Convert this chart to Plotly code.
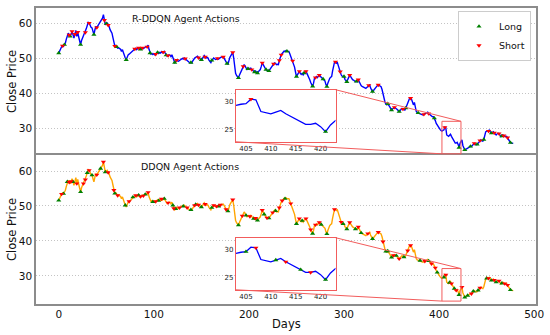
import plotly.graph_objects as go

# ---------------- data ----------------
days = list(range(479))
close = [
    51.6, 52.3, 52.9, 53.4, 53.7, 53.5, 54.0, 54.5, 55.6, 56.9,
    57.3, 56.8, 56.4, 57.0, 57.8, 56.9, 55.9, 57.0, 58.1, 56.4,
    57.6, 56.2, 55.0, 54.0, 55.2, 55.8, 56.4, 57.0, 57.5, 58.6,
    59.5, 60.4, 60.2, 59.5, 59.0, 58.8, 58.0, 56.9, 58.2, 59.2,
    58.9, 59.3, 59.7, 60.3, 60.7, 61.2, 61.6, 62.6, 61.0, 59.7,
    60.0, 60.2, 59.6, 59.2, 58.3, 57.8, 57.3, 56.0, 54.5, 53.6,
    53.8, 53.4, 53.0, 53.1, 52.9, 52.7, 52.1, 52.6, 51.8, 50.8,
    50.2, 49.7, 50.5, 51.1, 51.3, 51.6, 51.9, 52.2, 52.5, 52.7,
    52.8, 53.0, 52.6, 52.9, 53.1, 53.0, 52.7, 52.8, 53.1, 52.9,
    53.2, 53.3, 53.5, 53.4, 53.9, 52.6, 51.6, 51.3, 51.5, 51.2,
    51.4, 51.1, 51.3, 51.6, 51.8, 51.5, 51.8, 51.6, 52.0, 51.7,
    51.9, 52.1, 51.6, 51.0, 50.7, 50.9, 51.1, 51.0, 50.6, 51.1,
    50.2, 49.3, 48.9, 49.2, 49.6, 49.4, 49.3, 49.5, 49.8, 50.0,
    50.1, 49.9, 50.2, 50.0, 49.7, 49.5, 49.2, 49.0, 48.8, 48.9,
    48.8, 49.4, 49.9, 50.2, 50.4, 50.5, 50.7, 50.3, 50.0, 49.8,
    49.7, 50.0, 50.6, 50.9, 50.5, 50.2, 50.4, 50.2, 49.6, 49.2,
    48.9, 49.5, 49.9, 50.2, 50.0, 49.8, 49.9, 50.1, 49.9, 50.2,
    50.3, 50.5, 50.4, 50.5, 50.1, 49.6, 49.0, 48.6, 48.5, 49.6,
    50.4, 50.9, 51.4, 51.8, 50.2, 47.3, 45.8, 45.2, 44.6, 44.5,
    45.3, 46.0, 46.4, 47.2, 47.8, 48.3, 47.9, 47.3, 46.9, 47.1,
    47.3, 47.0, 47.3, 46.9, 46.6, 46.4, 46.2, 46.5, 46.1, 45.9,
    46.3, 46.6, 46.9, 47.8, 48.8, 48.3, 47.6, 47.3, 46.9, 46.6,
    46.4, 46.5, 47.0, 47.5, 47.8, 48.1, 48.5, 48.8, 48.6, 48.3,
    48.4, 48.3, 49.5, 50.6, 51.1, 51.5, 51.9, 52.2, 52.1, 52.3,
    52.1, 52.2, 52.1, 51.4, 50.7, 50.1, 49.4, 48.8, 47.6, 46.2,
    44.9, 45.4, 46.1, 46.4, 45.9, 45.5, 45.8, 45.4, 45.9, 46.2,
    46.4, 45.8, 45.3, 44.9, 44.0, 43.2, 42.4, 42.1, 43.0, 44.5,
    44.6, 44.9, 44.6, 44.9, 45.3, 45.0, 44.7, 44.5, 44.2, 44.0,
    43.6, 42.6, 42.0, 43.0, 44.0, 44.4, 44.7, 44.9, 46.5, 48.2,
    49.0, 49.1, 48.7, 48.9, 47.9, 46.8, 46.3, 45.4, 45.0, 44.9,
    44.9, 44.1, 43.7, 43.4, 44.1, 44.8, 45.3, 44.9, 44.4, 44.0,
    43.9, 43.6, 43.4, 43.5, 43.4, 44.0, 43.3, 42.5, 42.3, 42.1,
    42.0, 41.8, 41.7, 41.5, 41.8, 42.1, 42.4, 42.5, 41.6, 40.9,
    40.6, 40.9, 41.3, 41.5, 41.9, 42.3, 42.5, 42.3, 42.1, 42.0,
    41.2, 39.8, 38.6, 37.7, 37.0, 36.8, 37.1, 36.8, 36.3, 35.8,
    35.3, 35.6, 35.9, 36.1, 35.9, 35.8, 35.5, 35.2, 34.9, 35.2,
    35.6, 35.8, 35.6, 35.4, 35.3, 35.9, 36.6, 37.2, 38.0, 38.7,
    38.7, 38.4, 37.6, 36.8, 37.5, 35.7, 34.9, 34.6, 34.5, 34.4,
    34.4, 34.2, 34.0, 33.9, 34.1, 34.2, 34.5, 34.6, 34.7, 34.3,
    34.0, 33.7, 33.5, 33.4, 33.4, 33.0, 32.3, 31.5, 31.0, 30.5,
    30.1, 29.8, 29.5, 29.3, 29.5, 29.6, 30.4, 30.3, 28.2, 28.0,
    27.8, 28.1, 28.4, 27.8, 27.3, 26.9, 26.4, 25.9, 25.9, 26.1,
    25.5, 24.6, 25.8, 26.6, 26.8, 25.2, 24.3, 23.9, 24.1, 24.3,
    24.4, 24.6, 24.8, 24.9, 24.9, 25.3, 25.6, 25.8, 25.6, 25.4,
    25.5, 25.9, 26.3, 26.6, 26.8, 26.5, 26.4, 26.9, 28.2, 29.1,
    29.3, 29.4, 29.3, 29.6, 29.0, 28.7, 28.9, 29.1, 28.8, 28.5,
    28.2, 28.5, 28.7, 28.6, 28.1, 27.7, 27.9, 28.2, 28.0, 27.8,
    27.7, 27.8, 27.4, 26.9, 26.3, 26.0, 25.9, 25.8, 25.8,
]

rddqn_long = [0, 6, 12, 23, 37, 50, 61, 71, 86, 96, 104, 113, 122, 139, 150, 161,
              177, 189, 199, 206, 209, 218, 221, 240, 250, 258, 267, 278, 282, 300,
              303, 313, 330, 346, 350, 358, 365, 378, 395, 421, 427, 433, 440, 447,
              455, 466, 475]
rddqn_short = [4, 11, 14, 17, 20, 28, 32, 40, 48, 52, 59, 80, 84, 88, 93, 102, 110,
               115, 124, 133, 147, 154, 167, 173, 183, 194, 203, 214, 226, 232, 234,
               246, 253, 260, 270, 274, 291, 296, 306, 315, 326, 336, 353, 362, 370,
               384, 389, 406, 437, 443, 452, 458, 463, 468, 472]
ddqn_long = [0, 5, 9, 15, 23, 30, 35, 44, 49, 59, 70, 78, 84, 91, 99, 105, 111, 120,
             123, 131, 139, 144, 150, 161, 168, 178, 189, 197, 205, 209, 216, 221,
             228, 238, 250, 256, 267, 276, 282, 299, 303, 312, 318, 330, 344, 346,
             350, 355, 363, 380, 389, 398, 405, 411, 416, 421, 427, 430, 436, 441,
             450, 455, 460, 466, 475]
ddqn_short = [3, 11, 13, 19, 26, 28, 32, 40, 47, 52, 58, 62, 74, 81, 86, 89, 94, 102,
              108, 115, 121, 127, 135, 143, 147, 154, 163, 166, 170, 176, 183, 193,
              201, 207, 214, 219, 225, 232, 235, 244, 253, 260, 265, 270, 274, 290,
              297, 306, 315, 325, 336, 341, 352, 358, 367, 370, 385, 392, 396, 407,
              413, 418, 424, 434, 443, 452, 458, 463, 469, 472]

x_ticks = [0, 100, 200, 300, 400, 500]
y_ticks = [30, 40, 50, 60]
inset_x_ticks = [405, 410, 415, 420]
inset_y_ticks = [25, 30]
zoom_x = [403, 423]
zoom_y = [22.8, 32.1]

# ---------------- styles ----------------
FONT = "DejaVu Sans"
BLUE = "#0000ff"
ORANGE = "#ffa500"
GREEN = "#008000"
RED = "#ff0000"
ZRED = "#f25c5c"
SPINE = "#8c8c8c"
GRID = "#c4c4c4"

x_range = [-23.9, 501.9]
y_range = [21.97, 64.5]
top_dom = [0.4975, 1.0]
bot_dom = [0.0, 0.5025]
inset_dx = [0.400, 0.599]
inset_top_dy = [0.548, 0.724]
inset_bot_dy = [0.048, 0.224]

fig = go.Figure()

def vals(idx):
    return [close[d] for d in idx]

def panel(line_color, longs, shorts, xa, ya, legend):
    fig.add_trace(go.Scatter(x=days, y=close, mode="lines",
                             line=dict(color=line_color, width=1.4),
                             xaxis=xa, yaxis=ya, showlegend=False, hoverinfo="skip"))
    fig.add_trace(go.Scatter(x=longs, y=vals(longs), mode="markers", name="Long",
                             marker=dict(symbol="triangle-up", color=GREEN, size=4.5),
                             xaxis=xa, yaxis=ya, showlegend=legend))
    fig.add_trace(go.Scatter(x=shorts, y=vals(shorts), mode="markers", name="Short",
                             marker=dict(symbol="triangle-down", color=RED, size=4.5),
                             xaxis=xa, yaxis=ya, showlegend=legend))

def inset(longs, shorts, xa, ya):
    sub = [d for d in days if zoom_x[0] - 1 <= d <= zoom_x[1] + 1]
    fig.add_trace(go.Scatter(x=sub, y=vals(sub), mode="lines",
                             line=dict(color=BLUE, width=1.3),
                             xaxis=xa, yaxis=ya, showlegend=False, hoverinfo="skip"))
    l = [d for d in longs if zoom_x[0] <= d <= zoom_x[1]]
    s = [d for d in shorts if zoom_x[0] <= d <= zoom_x[1]]
    fig.add_trace(go.Scatter(x=l, y=vals(l), mode="markers",
                             marker=dict(symbol="triangle-up", color=GREEN, size=4.5),
                             xaxis=xa, yaxis=ya, showlegend=False))
    fig.add_trace(go.Scatter(x=s, y=vals(s), mode="markers",
                             marker=dict(symbol="triangle-down", color=RED, size=4.5),
                             xaxis=xa, yaxis=ya, showlegend=False))

panel(BLUE, rddqn_long, rddqn_short, "x", "y", True)
panel(ORANGE, ddqn_long, ddqn_short, "x2", "y2", False)
inset(rddqn_long, rddqn_short, "x3", "y3")
inset(ddqn_long, ddqn_short, "x4", "y4")

main_x = dict(range=x_range, showgrid=False, showline=True, mirror=True,
              linecolor=SPINE, linewidth=1.5, ticks="", zeroline=False,
              tickvals=x_ticks, tickfont=dict(family=FONT, size=10.5, color="#111"))
main_y = dict(range=y_range, showgrid=True, gridcolor=GRID, griddash="1px,2px",
              gridwidth=1, showline=True, mirror=True, linecolor=SPINE,
              linewidth=1.5, ticks="", zeroline=False, tickvals=y_ticks,
              tickfont=dict(family=FONT, size=10.5, color="#111"))
in_x = dict(range=zoom_x, showgrid=False, showline=True, mirror=True,
            linecolor=ZRED, linewidth=1.2, ticks="", zeroline=False,
            tickvals=inset_x_ticks, tickfont=dict(family=FONT, size=7, color="#222"))
in_y = dict(range=zoom_y, showgrid=False, showline=True, mirror=True,
            linecolor=ZRED, linewidth=1.2, ticks="", zeroline=False,
            tickvals=inset_y_ticks, tickfont=dict(family=FONT, size=7, color="#222"))

fig.update_layout(
    width=550, height=335,
    margin=dict(l=36, r=12, t=6, b=31),
    paper_bgcolor="white", plot_bgcolor="white",
    xaxis=dict(main_x, domain=[0, 1], anchor="y", showticklabels=False),
    yaxis=dict(main_y, domain=top_dom, anchor="x"),
    xaxis2=dict(main_x, domain=[0, 1], anchor="y2"),
    yaxis2=dict(main_y, domain=bot_dom, anchor="x2"),
    xaxis3=dict(in_x, domain=inset_dx, anchor="y3"),
    yaxis3=dict(in_y, domain=inset_top_dy, anchor="x3"),
    xaxis4=dict(in_x, domain=inset_dx, anchor="y4"),
    yaxis4=dict(in_y, domain=inset_bot_dy, anchor="x4"),
    legend=dict(x=0.99, y=0.99, xanchor="right", yanchor="top",
                bordercolor="#cccccc", borderwidth=1, bgcolor="white",
                font=dict(family=FONT, size=9.5, color="#111"),
                itemwidth=30, tracegroupgap=0),
    font=dict(family=FONT),
    showlegend=True,
)

def px_x(v):
    return (v - x_range[0]) / (x_range[1] - x_range[0])

def px_y(v, dom):
    return dom[0] + (v - y_range[0]) / (y_range[1] - y_range[0]) * (dom[1] - dom[0])

shapes = []
for xa, ya, dom, idy in (("x3", "y3", top_dom, inset_top_dy), ("x4", "y4", bot_dom, inset_bot_dy)):
    shapes.append(dict(type="rect", xref=xa, yref=ya, x0=zoom_x[0], x1=zoom_x[1],
                       y0=zoom_y[0], y1=zoom_y[1], fillcolor="white",
                       line=dict(width=0), layer="below"))
    shapes.append(dict(type="rect", xref="paper", yref="paper",
                       x0=px_x(zoom_x[0]), x1=px_x(zoom_x[1]),
                       y0=px_y(zoom_y[0], dom), y1=px_y(zoom_y[1], dom),
                       line=dict(color=ZRED, width=1), layer="above"))
    shapes.append(dict(type="line", xref="paper", yref="paper",
                       x0=inset_dx[1], y0=idy[1],
                       x1=px_x(zoom_x[1]), y1=px_y(zoom_y[1], dom),
                       line=dict(color=ZRED, width=1), layer="above"))
    shapes.append(dict(type="line", xref="paper", yref="paper",
                       x0=inset_dx[0], y0=idy[0],
                       x1=px_x(zoom_x[0]), y1=px_y(zoom_y[0], dom),
                       line=dict(color=ZRED, width=1), layer="above"))
fig.update_layout(shapes=shapes)

ann = [
    dict(text="R-DDQN Agent Actions", x=0.299, y=0.963, xref="paper", yref="paper",
         xanchor="center", yanchor="middle",
         showarrow=False, font=dict(family=FONT, size=9.5, color="#111")),
    dict(text="DDQN Agent Actions", x=0.307, y=0.463, xref="paper", yref="paper",
         xanchor="center", yanchor="middle",
         showarrow=False, font=dict(family=FONT, size=9.5, color="#111")),
    dict(text="Close Price", x=0, y=0.75, xref="paper", yref="paper", xshift=-24,
         xanchor="center", yanchor="middle",
         textangle=-90, showarrow=False, font=dict(family=FONT, size=11.5, color="#111")),
    dict(text="Close Price", x=0, y=0.25, xref="paper", yref="paper", xshift=-24,
         xanchor="center", yanchor="middle",
         textangle=-90, showarrow=False, font=dict(family=FONT, size=11.5, color="#111")),
    dict(text="Days", x=0.5, y=0, xref="paper", yref="paper", yshift=-20,
         xanchor="center", yanchor="middle",
         showarrow=False, font=dict(family=FONT, size=11.5, color="#111")),
]
fig.update_layout(annotations=ann)

fig.write_html("out.html", post_script="document.body.style.margin='0px';",
               config={"displayModeBar": False})
